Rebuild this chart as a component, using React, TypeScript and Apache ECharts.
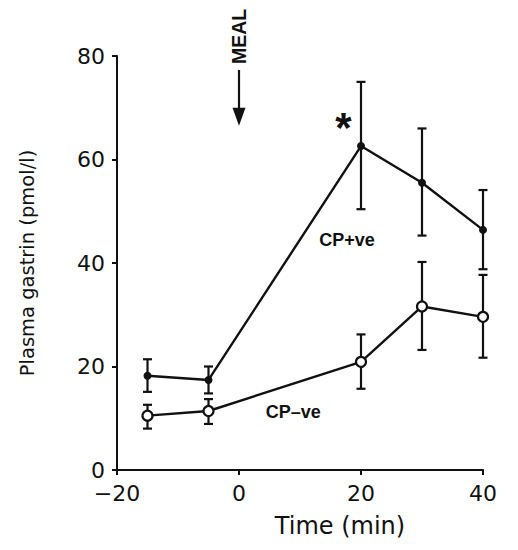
import React, { useEffect, useRef } from "react";
import * as echarts from "echarts";

const times = [-15, -5, 20, 30, 40];
const cpPosMean = [18.2, 17.4, 62.6, 55.5, 46.4];
const cpPosUpper = [21.4, 20.0, 75.0, 66.0, 54.1];
const cpPosLower = [15.1, 14.8, 50.4, 45.3, 38.8];
const cpNegMean = [10.5, 11.4, 20.9, 31.6, 29.6];
const cpNegUpper = [12.6, 13.7, 26.2, 40.2, 37.7];
const cpNegLower = [8.0, 8.9, 15.7, 23.2, 21.7];
const xTicks = [-20, 0, 20, 40];
const yTicks = [0, 20, 40, 60, 80];

const INK = "#111";

export default function App() {
  const ref = useRef<HTMLDivElement>(null);
  useEffect(() => {
    if (!ref.current) return;
    const chart = echarts.init(ref.current, null, { renderer: "svg" });
    const errData = (lo: number[], hi: number[]) => times.map((t, i) => [t, lo[i], hi[i]]);
    const errSeries = (name: string, lo: number[], hi: number[]) => ({
      type: "custom",
      name,
      data: errData(lo, hi),
      z: 1,
      renderItem: (params: any, api: any) => {
        const x = api.value(0);
        const a = api.coord([x, api.value(1)]);
        const b = api.coord([x, api.value(2)]);
        const w = 4.5;
        const st = { stroke: INK, lineWidth: 2.2 };
        return {
          type: "group",
          children: [
            { type: "line", shape: { x1: a[0], y1: a[1], x2: b[0], y2: b[1] }, style: st },
            { type: "line", shape: { x1: a[0] - w, y1: a[1], x2: a[0] + w, y2: a[1] }, style: st },
            { type: "line", shape: { x1: b[0] - w, y1: b[1], x2: b[0] + w, y2: b[1] }, style: st },
          ],
        };
      },
    });
    const option: any = {
      animation: false,
      backgroundColor: "#fff",
      grid: { left: 117, right: 35, top: 56, bottom: 80 },
      xAxis: {
        type: "value",
        min: xTicks[0],
        max: xTicks[xTicks.length - 1],
        interval: 20,
        name: "Time (min)",
        nameLocation: "middle",
        nameGap: 44,
        nameTextStyle: { fontFamily: "DejaVu Sans", fontSize: 24, color: INK, padding: [0, 0, 0, 80] },
        axisLine: { onZero: false, lineStyle: { color: INK, width: 2 } },
        axisTick: { show: true, length: 5, lineStyle: { color: INK, width: 2 } },
        splitLine: { show: false },
        axisLabel: {
          fontFamily: "DejaVu Sans",
          fontSize: 22,
          color: INK,
          margin: 12,
          formatter: (v: number) => String(v).replace("-", "\u2212"),
        },
      },
      yAxis: {
        type: "value",
        min: yTicks[0],
        max: yTicks[yTicks.length - 1],
        interval: 20,
        name: "Plasma gastrin (pmol/l)",
        nameLocation: "middle",
        nameGap: 80,
        nameTextStyle: { fontFamily: "DejaVu Sans", fontSize: 19.5, color: INK },
        axisLine: { show: true, onZero: false, lineStyle: { color: INK, width: 2 } },
        axisTick: { show: true, length: 5, lineStyle: { color: INK, width: 2 } },
        splitLine: { show: false },
        axisLabel: { fontFamily: "DejaVu Sans", fontSize: 22, color: INK, margin: 12 },
      },
      series: [
        errSeries("CP+ve SE", cpPosLower, cpPosUpper),
        errSeries("CP-ve SE", cpNegLower, cpNegUpper),
        {
          type: "line",
          name: "CP+ve",
          data: times.map((t, i) => [t, cpPosMean[i]]),
          symbol: "circle",
          symbolSize: 8,
          lineStyle: { color: INK, width: 2.4 },
          itemStyle: { color: INK, borderColor: INK, borderWidth: 0 },
          z: 3,
        },
        {
          type: "line",
          name: "CP-ve",
          data: times.map((t, i) => [t, cpNegMean[i]]),
          symbol: "circle",
          symbolSize: 10,
          showAllSymbol: true,
          lineStyle: { color: INK, width: 2.4 },
          itemStyle: { color: "#fff", borderColor: INK, borderWidth: 2.2 },
          z: 3,
        },
        {
          type: "custom",
          name: "annotations",
          data: [[0, 0]],
          z: 4,
          renderItem: (params: any, api: any) => {
            const top = api.coord([0, 77.3]);
            const tip = api.coord([0, 66.5]);
            const mealPos = api.coord([0, 83.8]);
            const star = api.coord([17.1, 66.1]);
            const pos = api.coord([17.7, 44.4]);
            const neg = api.coord([8.9, 11.2]);
            return {
              type: "group",
              children: [
                { type: "line", shape: { x1: top[0], y1: top[1], x2: tip[0], y2: tip[1] - 10 }, style: { stroke: INK, lineWidth: 2.2 } },
                {
                  type: "polygon",
                  shape: { points: [[tip[0] - 6.5, tip[1] - 18], [tip[0] + 6.5, tip[1] - 18], [tip[0], tip[1]]] },
                  style: { fill: INK },
                },
                {
                  type: "text",
                  x: mealPos[0],
                  y: mealPos[1],
                  rotation: Math.PI / 2,
                  style: {
                    text: "MEAL",
                    fontFamily: "Liberation Sans",
                    fontWeight: "bold",
                    fontSize: 19.5,
                    fill: INK,
                    align: "center",
                    verticalAlign: "middle",
                  },
                },
                {
                  type: "text",
                  x: star[0],
                  y: star[1],
                  style: {
                    text: "*",
                    fontFamily: "Liberation Sans",
                    fontWeight: "bold",
                    fontSize: 42,
                    fill: INK,
                    align: "center",
                    verticalAlign: "middle",
                  },
                },
                {
                  type: "text",
                  x: pos[0],
                  y: pos[1],
                  style: {
                    text: "CP+ve",
                    fontFamily: "Liberation Sans",
                    fontWeight: "bold",
                    fontSize: 18,
                    fill: INK,
                    align: "center",
                    verticalAlign: "middle",
                  },
                },
                {
                  type: "text",
                  x: neg[0],
                  y: neg[1],
                  style: {
                    text: "CP\u2013ve",
                    fontFamily: "Liberation Sans",
                    fontWeight: "bold",
                    fontSize: 18,
                    fill: INK,
                    align: "center",
                    verticalAlign: "middle",
                  },
                },
              ],
            };
          },
        },
      ],
    };
    chart.setOption(option);
    return () => chart.dispose();
  }, []);
  return (
    <div
      ref={ref}
      style={{ position: "fixed", left: 0, top: 0, width: 518, height: 550 }}
    />
  );
}
